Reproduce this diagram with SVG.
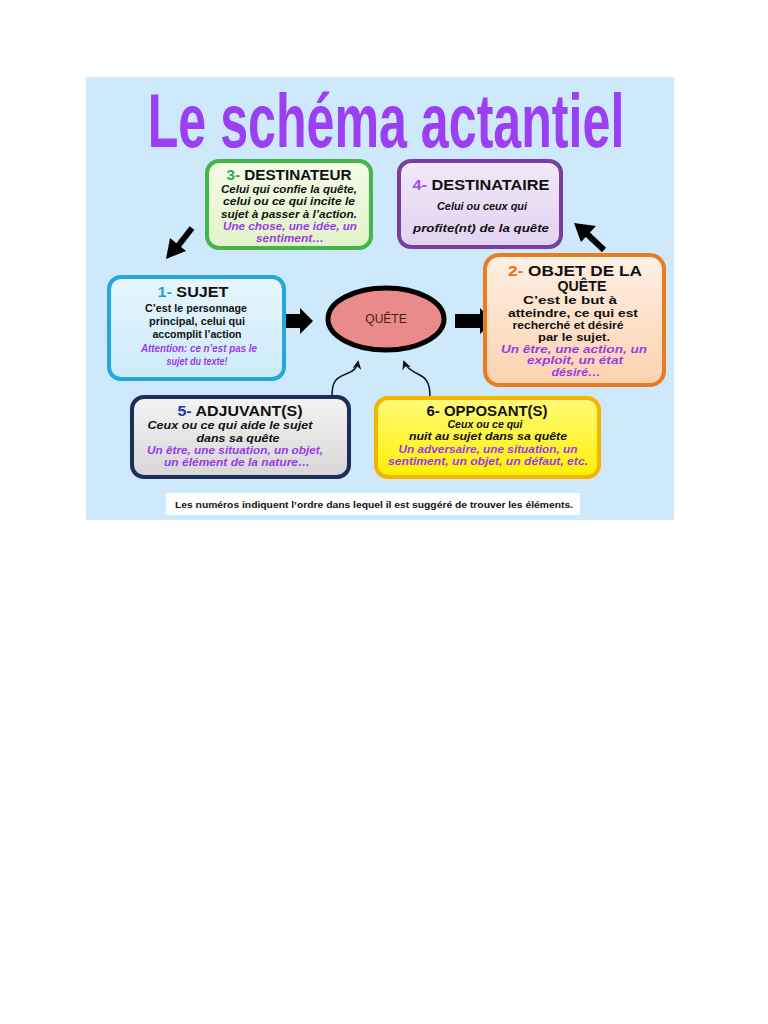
<svg xmlns="http://www.w3.org/2000/svg" width="768" height="1024" viewBox="0 0 768 1024">
<defs>
<linearGradient id="gGreen" x1="0" y1="0" x2="0" y2="1"><stop offset="0" stop-color="#f4fbe9"/><stop offset="1" stop-color="#e1f3c8"/></linearGradient>
<linearGradient id="gPurple" x1="0" y1="0" x2="0" y2="1"><stop offset="0" stop-color="#f1e8f8"/><stop offset="1" stop-color="#e2d2f0"/></linearGradient>
<linearGradient id="gBlue" x1="0" y1="0" x2="0" y2="1"><stop offset="0" stop-color="#e6f6fd"/><stop offset="1" stop-color="#cdebf9"/></linearGradient>
<linearGradient id="gOrange" x1="0" y1="0" x2="0" y2="1"><stop offset="0" stop-color="#fef0e4"/><stop offset="1" stop-color="#fbd2b0"/></linearGradient>
<linearGradient id="gGray" x1="0" y1="0" x2="0" y2="1"><stop offset="0" stop-color="#f4f4f4"/><stop offset="1" stop-color="#d6d6d6"/></linearGradient>
<linearGradient id="gYellow" x1="0" y1="0" x2="0" y2="1"><stop offset="0" stop-color="#fffa7a"/><stop offset="1" stop-color="#fff000"/></linearGradient>
<marker id="thin" viewBox="0 0 10 10" refX="8" refY="5" markerWidth="6" markerHeight="6" orient="auto"><path d="M0,0 L10,5 L0,10 L3,5 Z" fill="#111"/></marker>
<style>
.box{stroke-width:4}
text{font-family:"Liberation Sans",Arial,sans-serif;font-weight:bold;text-anchor:middle;fill:#111}
.hd{font-size:14px}
.bd{font-size:10.5px}
.it{font-style:italic;font-size:10.5px}
.pu{font-style:italic;font-size:10.5px;fill:#9a3ae6}
</style>
</defs>
<rect x="0" y="0" width="768" height="1024" fill="#ffffff"/>
<rect x="86" y="77" width="588" height="443" fill="#cde9fb"/>
<text transform="translate(386,147) scale(0.66,1)" x="0" y="0" font-size="76" style="fill:#9b3ff2">Le schéma actantiel</text>

<g id="connectors">
<path d="M192,228 L178,246" stroke="#000" stroke-width="6"/>
<path d="M166,259 L170,238 L186,251 Z" fill="#000"/>
<path d="M604,250 L586,233" stroke="#000" stroke-width="6"/>
<path d="M574,223 L596,226 L581,242 Z" fill="#000"/>
<path d="M273,314 H300 V308 L313,321 L300,334 V328 H273 Z" fill="#000"/>
<path d="M455,314 H480 V308 L493,321 L480,334 V328 H455 Z" fill="#000"/>
<path d="M332,396 C332,381 336,378 346,374 C354,371 357,368 358,362" fill="none" stroke="#111" stroke-width="1.5" marker-end="url(#thin)"/>
<path d="M430,397 C430,382 426,378 418,374 C410,370 406,367 404,362" fill="none" stroke="#111" stroke-width="1.5" marker-end="url(#thin)"/>
</g>

<g id="destinateur">
<rect class="box" x="207" y="161" width="164" height="87" rx="12" fill="url(#gGreen)" stroke="#44b549"/>
<text class="hd" x="289" y="180" textLength="125" lengthAdjust="spacingAndGlyphs"><tspan style="fill:#2fa84f">3- </tspan>DESTINATEUR</text>
<text class="it" x="289" y="193" textLength="136" lengthAdjust="spacingAndGlyphs">Celui qui confie la quête,</text>
<text class="it" x="289" y="205" textLength="132" lengthAdjust="spacingAndGlyphs">celui ou ce qui incite le</text>
<text class="it" x="289" y="218" textLength="136" lengthAdjust="spacingAndGlyphs">sujet à passer à l’action.</text>
<text class="pu" x="290" y="230" textLength="134" lengthAdjust="spacingAndGlyphs">Une chose, une idée, un</text>
<text class="pu" x="290" y="242" textLength="68" lengthAdjust="spacingAndGlyphs">sentiment…</text>
</g>

<g id="destinataire">
<rect class="box" x="399" y="161" width="162" height="86" rx="12" fill="url(#gPurple)" stroke="#7a3f9e"/>
<text class="hd" x="481" y="190" textLength="137" lengthAdjust="spacingAndGlyphs"><tspan style="fill:#a24fe0">4- </tspan>DESTINATAIRE</text>
<text class="it" x="482" y="210" textLength="90" lengthAdjust="spacingAndGlyphs">Celui ou ceux qui</text>
<text class="it" x="481" y="232" textLength="136" lengthAdjust="spacingAndGlyphs">profite(nt) de la quête</text>
</g>

<g id="sujet">
<rect class="box" x="109" y="277" width="175" height="102" rx="12" fill="url(#gBlue)" stroke="#27a6de"/>
<text class="hd" x="193" y="297" textLength="71" lengthAdjust="spacingAndGlyphs"><tspan style="fill:#1f9fe0">1- </tspan>SUJET</text>
<text class="bd" x="196" y="312" textLength="102" lengthAdjust="spacingAndGlyphs">C’est le personnage</text>
<text class="bd" x="197" y="325" textLength="96" lengthAdjust="spacingAndGlyphs">principal, celui qui</text>
<text class="bd" x="197" y="338" textLength="89" lengthAdjust="spacingAndGlyphs">accomplit l’action</text>
<text class="pu" x="199" y="352" textLength="116" lengthAdjust="spacingAndGlyphs">Attention:  ce n’est pas le</text>
<text class="pu" x="197" y="365" textLength="61" lengthAdjust="spacingAndGlyphs">sujet du texte!</text>
</g>

<g id="objet">
<rect class="box" x="485" y="255" width="179" height="130" rx="14" fill="url(#gOrange)" stroke="#e97c1e"/>
<text class="hd" x="575" y="276" textLength="134" lengthAdjust="spacingAndGlyphs"><tspan style="fill:#e8711a">2- </tspan>OBJET DE LA</text>
<text class="hd" x="582" y="291" textLength="49" lengthAdjust="spacingAndGlyphs">QUÊTE</text>
<text class="bd" x="570" y="304" textLength="94" lengthAdjust="spacingAndGlyphs">C’est le but à</text>
<text class="bd" x="573" y="317" textLength="130" lengthAdjust="spacingAndGlyphs">atteindre, ce qui est</text>
<text class="bd" x="568" y="329" textLength="111" lengthAdjust="spacingAndGlyphs">recherché et désiré</text>
<text class="bd" x="574" y="341" textLength="72" lengthAdjust="spacingAndGlyphs">par le sujet.</text>
<text class="pu" x="574" y="353" textLength="146" lengthAdjust="spacingAndGlyphs">Un être, une action, un</text>
<text class="pu" x="575" y="364" textLength="96" lengthAdjust="spacingAndGlyphs">exploit, un état</text>
<text class="pu" x="576" y="376" textLength="49" lengthAdjust="spacingAndGlyphs">désiré…</text>
</g>

<g id="quete">
<ellipse cx="386" cy="319" rx="58" ry="31" fill="#ea8a8a" stroke="#000" stroke-width="5"/>
<text x="386" y="323" font-size="12" style="font-weight:normal;fill:#4a1d1d">QUÊTE</text>
</g>

<g id="adjuvant">
<rect class="box" x="132" y="397" width="217" height="80" rx="12" fill="url(#gGray)" stroke="#1e2d5a"/>
<text class="hd" x="240" y="416" textLength="125" lengthAdjust="spacingAndGlyphs"><tspan style="fill:#2233aa">5- </tspan>ADJUVANT(S)</text>
<text class="it" x="230" y="429" textLength="165" lengthAdjust="spacingAndGlyphs">Ceux ou ce qui aide le sujet</text>
<text class="it" x="238" y="442" textLength="83" lengthAdjust="spacingAndGlyphs">dans sa  quête</text>
<text class="pu" x="235" y="454" textLength="176" lengthAdjust="spacingAndGlyphs">Un être, une situation, un objet,</text>
<text class="pu" x="237" y="466" textLength="146" lengthAdjust="spacingAndGlyphs">un élément de la nature…</text>
</g>

<g id="opposant">
<rect class="box" x="376" y="398" width="223" height="79" rx="12" fill="url(#gYellow)" stroke="#f4b400"/>
<text class="hd" x="487" y="416" textLength="121" lengthAdjust="spacingAndGlyphs">6- OPPOSANT(S)</text>
<text class="it" x="485" y="428" textLength="75" lengthAdjust="spacingAndGlyphs">Ceux ou ce qui</text>
<text class="it" x="488" y="440" textLength="158" lengthAdjust="spacingAndGlyphs">nuit au sujet dans sa  quête</text>
<text class="pu" x="488" y="453" textLength="179" lengthAdjust="spacingAndGlyphs">Un adversaire, une situation, un</text>
<text class="pu" x="488" y="465" textLength="200" lengthAdjust="spacingAndGlyphs">sentiment, un objet,  un défaut, etc.</text>
</g>

<g id="note">
<rect x="166" y="493" width="414" height="22" fill="#ffffff"/>
<text x="374" y="508" font-size="9" textLength="398" lengthAdjust="spacingAndGlyphs">Les numéros indiquent l’ordre dans lequel il est suggéré de trouver les éléments.</text>
</g>
</svg>
